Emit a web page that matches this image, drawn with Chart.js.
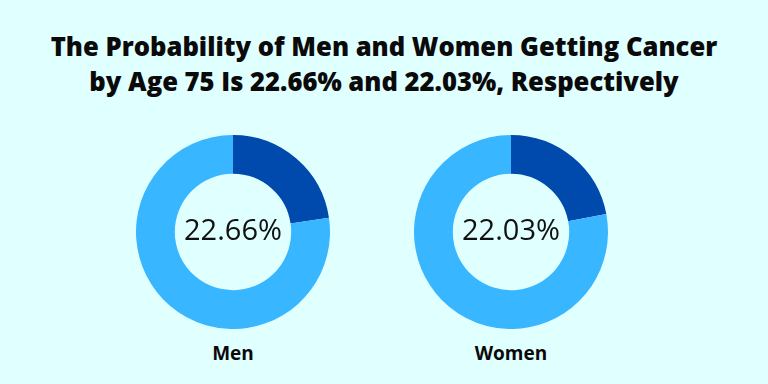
<!DOCTYPE html>
<html>
<head>
<meta charset="utf-8">
<script src="https://cdn.jsdelivr.net/npm/chart.js@4"></script>
<style>
  html, body { margin: 0; padding: 0; }
  body { width: 768px; height: 384px; background: #e0ffff; position: relative; overflow: hidden; font-family: "Open Sans", sans-serif; }
  #title { position: absolute; left: 0; top: 29px; width: 768px; text-align: center; font-weight: 800; font-size: 25.6px; line-height: 35px; color: #0a0a0a; }
  .box { position: absolute; top: 135px; width: 194px; height: 194px; }
  .lbl { position: absolute; top: 340px; width: 200px; text-align: center; font-weight: 700; font-size: 19px; color: #0a0a0a; }
</style>
</head>
<body>
<div id="title">The Probability of Men and Women Getting Cancer<br>by Age 75 Is 22.66% and 22.03%, Respectively</div>
<div class="box" style="left:136px"><canvas id="men"></canvas></div>
<div class="box" style="left:414px"><canvas id="women"></canvas></div>
<div class="lbl" style="left:133px">Men</div>
<div class="lbl" style="left:411px">Women</div>
<script>
// values
const groups = ['Men', 'Women'];
const cancerPct = [22.66, 22.03];
const sliceLabels = ['Cancer by 75', 'No cancer by 75'];
const sliceColors = ['#004aad', '#38b6ff'];

const centerText = {
  id: 'centerText',
  afterDraw(chart) {
    const meta = chart.getDatasetMeta(0).data[0];
    if (!meta) return;
    const ctx = chart.ctx;
    ctx.save();
    ctx.font = '400 29px "Open Sans"';
    ctx.fillStyle = '#111';
    ctx.textAlign = 'center';
    ctx.textBaseline = 'middle';
    ctx.fillText(chart.options.plugins.centerText.text, meta.x, meta.y);
    ctx.restore();
  }
};

function makeChart(id, pct) {
  new Chart(document.getElementById(id), {
    type: 'doughnut',
    data: {
      labels: sliceLabels,
      datasets: [{
        data: [pct, +(100 - pct).toFixed(2)],
        backgroundColor: sliceColors,
        borderWidth: 0
      }]
    },
    options: {
      responsive: true,
      maintainAspectRatio: true,
      animation: false,
      cutout: '60%',
      layout: { padding: 0 },
      plugins: {
        legend: { display: false },
        tooltip: { enabled: false },
        centerText: { text: pct.toFixed(2) + '%' }
      }
    },
    plugins: [centerText]
  });
}

makeChart('men', cancerPct[0]);
makeChart('women', cancerPct[1]);
</script>
</body>
</html>
